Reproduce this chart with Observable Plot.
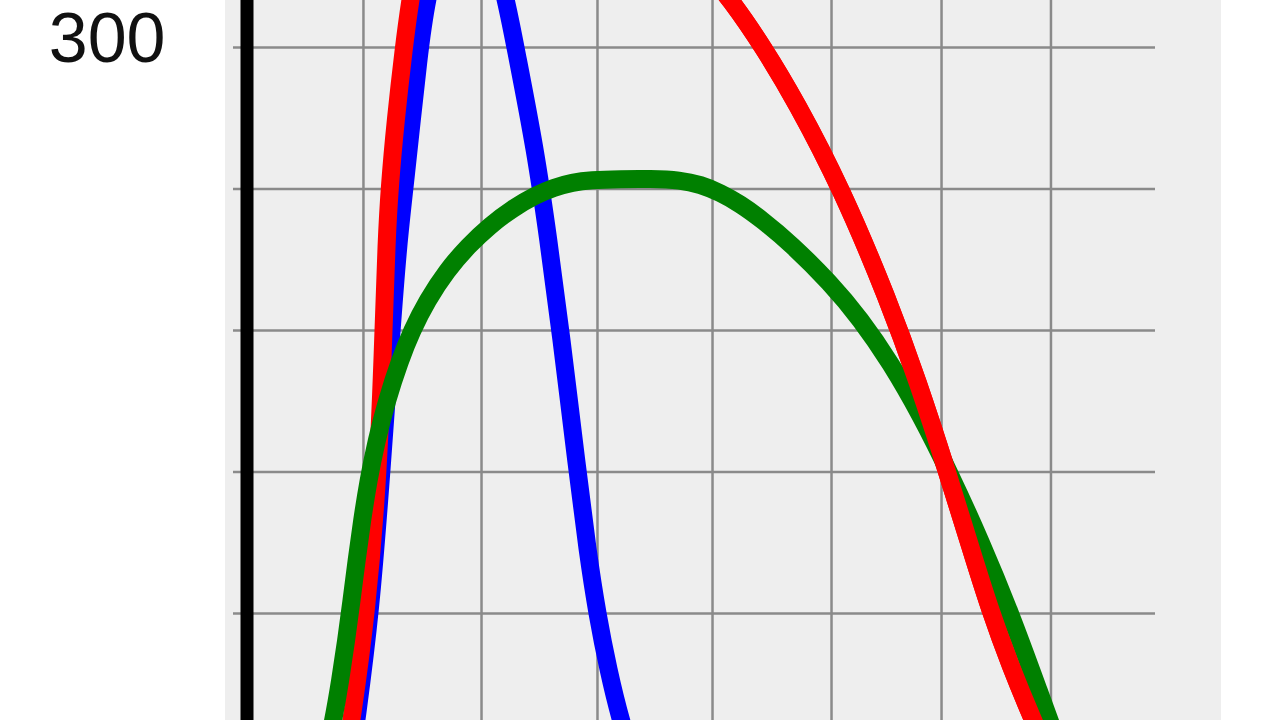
<!DOCTYPE html>
<html>
<head>
<meta charset="utf-8">
<script src="https://cdn.jsdelivr.net/npm/d3@7"></script>
<script src="https://cdn.jsdelivr.net/npm/@observablehq/plot@0.6"></script>
<style>
  html, body { margin: 0; padding: 0; background: #fff; }
  #chart { width: 1280px; height: 720px; overflow: hidden; }
</style>
</head>
<body>
<div id="chart"></div>
<script>
// Tick / grid values
const xGrid = [1.011, 2.023, 3.017, 4.003, 5.023, 5.966, 6.904];
const yGrid = [220, 240, 260, 280, 300];
const yLabels = [300];

// Series names and colours
const seriesNames = ["blue", "red", "green"];
const seriesColors = ["#0000ff", "#ff0000", "#008f00"];

// Series values [x, y]
const blue = [
  [0.891, 197.81], [0.951, 204.88], [1.071, 220.00], [1.166, 240.07], [1.251, 260.00],
  [1.311, 272.72], [1.363, 280.07], [1.491, 300.00], [1.551, 306.64], [1.671, 315.12],
  [1.894, 322.19], [2.100, 315.12], [2.237, 306.64], [2.314, 300.00], [2.486, 285.44],
  [2.597, 272.72], [2.700, 260.00], [2.846, 240.07], [2.931, 228.90], [3.017, 219.72],
  [3.111, 211.94], [3.214, 204.88], [3.351, 197.81]
];
const red = [
  [0.840, 197.81], [0.909, 204.88], [1.037, 220.00], [1.140, 240.07], [1.183, 260.00],
  [1.209, 272.72], [1.234, 280.07], [1.286, 289.68], [1.357, 300.00], [1.410, 306.64],
  [1.500, 315.12], [1.637, 322.19], [1.817, 326.43], [2.014, 328.27], [2.186, 328.55],
  [2.529, 327.42], [2.871, 325.44], [3.214, 322.19], [3.557, 317.53], [3.900, 311.87],
  [4.166, 306.64], [4.440, 300.00], [4.714, 292.51], [5.109, 280.07], [5.511, 264.24],
  [5.760, 252.93], [6.017, 239.93], [6.214, 229.33], [6.386, 220.28], [6.557, 212.58],
  [6.754, 204.74], [6.900, 199.36]
];
const green = [
  [0.660, 197.81], [0.754, 204.88], [0.812, 210.53], [0.863, 216.18], [0.909, 221.84],
  [0.952, 227.49], [0.999, 233.15], [1.053, 238.80], [1.123, 244.45], [1.211, 250.11],
  [1.323, 255.76], [1.426, 260.00], [1.557, 264.24], [1.725, 268.48], [1.911, 272.01],
  [2.094, 274.84], [2.288, 277.24], [2.481, 279.08], [2.642, 280.21], [2.802, 280.92],
  [2.955, 281.27], [3.214, 281.41], [3.471, 281.44], [3.729, 281.27], [3.900, 280.62],
  [4.071, 279.48], [4.243, 277.85], [4.414, 275.83], [4.671, 272.34], [5.014, 266.69],
  [5.271, 261.63], [5.529, 255.45], [5.786, 248.10], [6.043, 239.60], [6.300, 230.30],
  [6.557, 220.07], [6.814, 208.42], [6.986, 200.65], [7.071, 196.82]
];

const seriesData = {blue, red, green};
const rows = seriesNames.flatMap(name => seriesData[name].map(([x, y]) => ({series: name, x, y})));
// the red curve's falling side passes over the green one
const redFalling = rows.filter(d => d.series === "red" && d.x >= 3.214);

const gridColor = "#8a8a8a";
const lineOptions = {
  x: "x", y: "y", z: "series", stroke: "series",
  strokeWidth: 18, curve: "basis", clip: true,
  strokeLinecap: "butt", strokeLinejoin: "round"
};

const chart = Plot.plot({
  width: 1280,
  height: 720,
  marginLeft: 245,
  marginRight: 125,
  marginTop: 0,
  marginBottom: 0,
  style: {
    background: "linear-gradient(to right, #ffffff 225px, #eeeeee 225px, #eeeeee 1221px, #ffffff 1221px)",
    fontFamily: "'Liberation Sans', Arial, sans-serif",
    color: "#111"
  },
  x: {domain: [0, 7.8], axis: null},
  y: {domain: [204.876, 306.643], axis: null},
  color: {domain: seriesNames, range: seriesColors},
  marks: [
    Plot.ruleY(yGrid, {stroke: gridColor, strokeWidth: 2.5}),
    Plot.ruleX(xGrid, {stroke: gridColor, strokeWidth: 2.5}),
    Plot.axisY(yGrid, {tickSize: 12, stroke: gridColor, strokeWidth: 2.5, tickFormat: () => "", label: null}),
    Plot.axisY(yLabels, {tickSize: 0, tickPadding: 80, fontSize: 70, dy: -8, fill: "#111", label: null}),
    Plot.ruleX([0], {stroke: "#000", strokeWidth: 13, dx: 1.5}),
    Plot.line(rows, lineOptions),
    Plot.line(redFalling, lineOptions)
  ]
});
document.getElementById("chart").appendChild(chart);
</script>
</body>
</html>
